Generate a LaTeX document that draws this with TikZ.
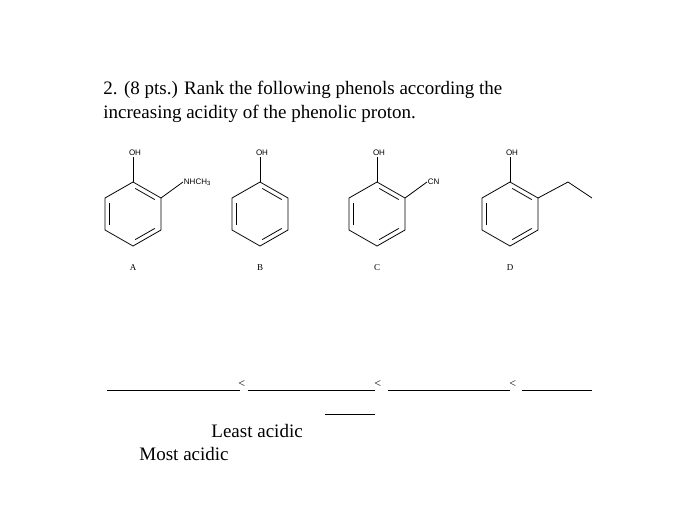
\documentclass[tikz,border=0pt]{standalone}
\usepackage{fontspec}
\usetikzlibrary{calc}
\setmainfont{Liberation Serif}
\newfontfamily\chemfont{Liberation Sans}
\begin{document}
\begin{tikzpicture}[x=1pt,y=-1pt,line width=0.9pt,
  txt/.style={anchor=base west,inner sep=0,font=\fontsize{19}{21}\selectfont},
  atom/.style={inner sep=0.5pt,font=\chemfont\fontsize{8}{9}\selectfont},
  lbl/.style={inner sep=0,font=\fontsize{9}{10}\selectfont},
  bond/.style={line width=0.8pt}]
\useasboundingbox (0,0) rectangle (700,511);
\node[txt] (t1) at (103,94) {2. (8 pts.) Rank the following phenols according the};
\node[txt] (t2) at (103,118) {increasing acidity of the phenolic proton.};
\foreach \n/\cx in {A/133,B/260,C/377,D/510}{
  \coordinate (\n1) at (\cx,182);
  \coordinate (\n2) at (\cx+28,198);
  \coordinate (\n3) at (\cx+28,230);
  \coordinate (\n4) at (\cx,246);
  \coordinate (\n5) at (\cx-28,230);
  \coordinate (\n6) at (\cx-28,198);
  \draw[bond] (\n1)--(\n2)--(\n3)--(\n4)--(\n5)--(\n6)--cycle;
  \draw[bond] ($(\n1)!0.15!(\n2)+(-2,4)$) -- ($(\n2)!0.15!(\n1)+(-2,4)$);
  \draw[bond] ($(\n3)!0.15!(\n4)+(-2,-4)$) -- ($(\n4)!0.15!(\n3)+(-2,-4)$);
  \draw[bond] ($(\n5)!0.15!(\n6)+(4.5,0)$) -- ($(\n6)!0.15!(\n5)+(4.5,0)$);
  \node[atom] (oh\n) at (\cx+2,153) {OH};
  \draw[bond] (\n1) -- (oh\n.south -| \n1);
  \node[lbl] (l\n) at (\cx,268) {\n};
}
\node[atom,anchor=west] (sA) at (183,182) {NHCH\textsubscript{3}};
\draw[bond] (A2) -- (sA.west);
\node[atom,anchor=west] (sC) at (427,182) {CN};
\draw[bond] (C2) -- (sC.west);
\coordinate (d1) at (568,182);
\coordinate (d2) at (592,198);
\draw[bond] (D2) -- (d1) -- (d2);
\begin{scope}[line width=0.6pt]
\coordinate (a1) at (107,390); \coordinate (a2) at (240,390);
\coordinate (b1) at (248,390); \coordinate (b2) at (375,390);
\coordinate (c1) at (388,390); \coordinate (c2) at (510,390);
\coordinate (e1) at (522,390); \coordinate (e2) at (592,390);
\coordinate (f1) at (325,414); \coordinate (f2) at (375,414);
\draw (a1)--(a2); \draw (b1)--(b2); \draw (c1)--(c2); \draw (e1)--(e2); \draw (f1)--(f2);
\end{scope}
\node[txt,font=\fontsize{12}{12}\selectfont] (lt1) at (238,387) {<};
\node[txt,font=\fontsize{12}{12}\selectfont] (lt2) at (374,387) {<};
\node[txt,font=\fontsize{12}{12}\selectfont] (lt3) at (509,387) {<};
\node[txt] (least) at (211,437) {Least acidic};
\node[txt] (most) at (139,460) {Most acidic};
\end{tikzpicture}
\end{document}
